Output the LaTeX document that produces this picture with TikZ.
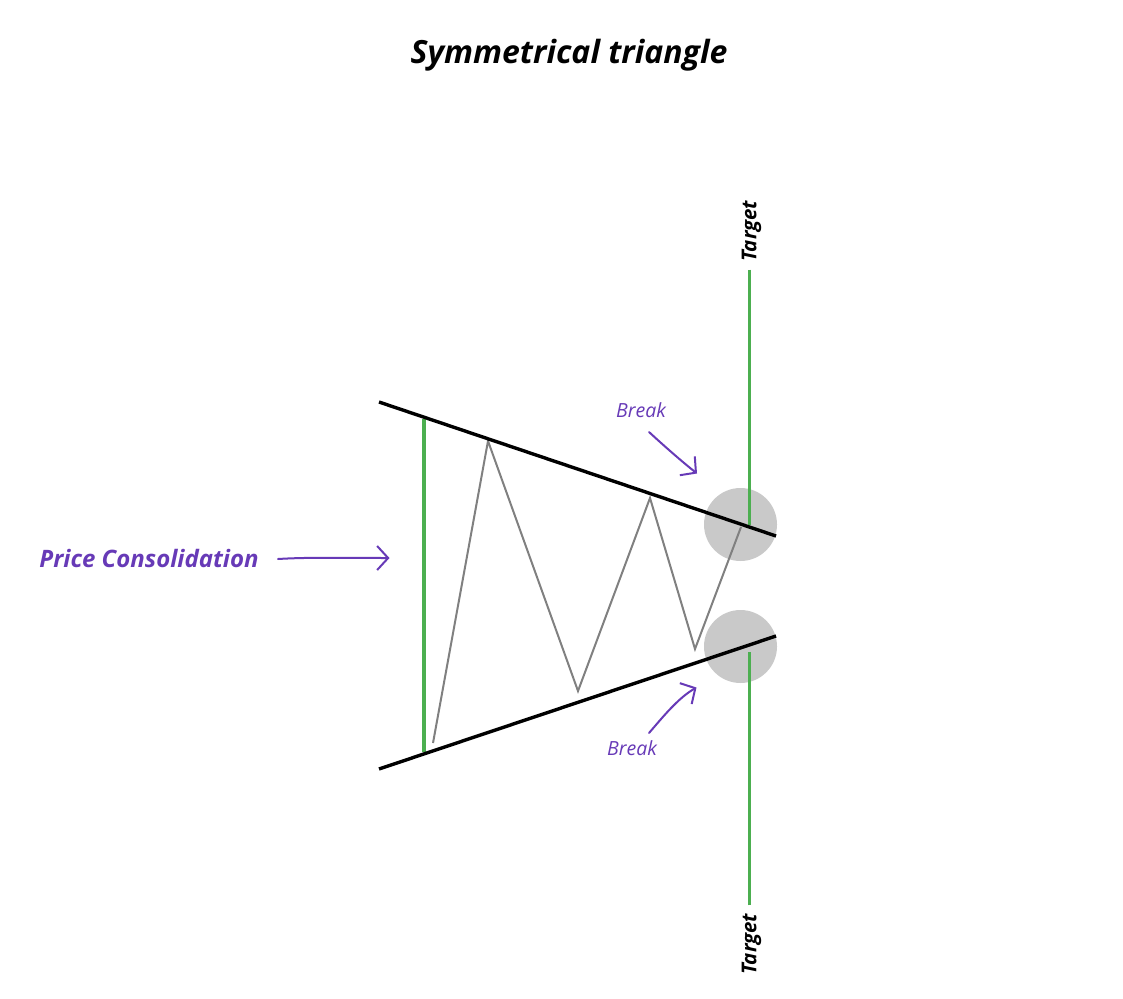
\documentclass[tikz,border=0pt]{standalone}
\usepackage{fontspec}
\setmainfont{Open Sans}
\usetikzlibrary{arrows.meta}
\definecolor{trendgreen}{HTML}{4CAF50}
\definecolor{notepurple}{HTML}{673AB7}
\definecolor{zonegray}{HTML}{C9C9C9}

\begin{document}
\begin{tikzpicture}[x=1pt, y=-1pt]
    \tikzstyle{trend} = [black, line width=3.4pt]
    \tikzstyle{target} = [trendgreen, line width=3.3pt]
    \tikzstyle{price} = [gray, line width=2pt, line join=miter]
    \tikzstyle{note} = [notepurple, line width=2pt, line cap=round, -{Straight Barb[length=11pt, width=24pt, line width=2pt]}]
    \tikzstyle{zone} = [circle, fill=zonegray, minimum size=73pt, inner sep=0pt]
    \tikzstyle{breaktext} = [text=notepurple, font=\fontsize{19.5}{20}\selectfont\itshape, inner sep=0pt]
    \tikzstyle{targettext} = [rotate=90, font=\fontsize{20.5}{21}\selectfont\itshape\bfseries, inner sep=8pt]

    \useasboundingbox (0,0) rectangle (1123,998);

    % Titre
    \node[font=\fontsize{32}{32}\selectfont\itshape\bfseries, inner sep=0pt] (title) at (569,55) {Symmetrical triangle};

    % Zones de cassure
    \node[zone] (zoneup) at (740.5,524.5) {};
    \node[zone] (zonedown) at (740.5,646.5) {};

    % Points du triangle
    \coordinate (upstart) at (379,402);
    \coordinate (upend) at (776,536);
    \coordinate (downstart) at (379,769);
    \coordinate (downend) at (776,636);
    \coordinate (widthtop) at (424,419);
    \coordinate (widthbottom) at (424,752);

    % Prix
    \coordinate (p0) at (433,743);
    \coordinate (p1) at (488,441);
    \coordinate (p2) at (578,691);
    \coordinate (p3) at (650,498);
    \coordinate (p4) at (695,649);
    \coordinate (p5) at (741,527);
    \draw[price] (p0) -- (p1) -- (p2) -- (p3) -- (p4) -- (p5);

    % Objectifs
    \node[targettext] (targetup) at (751.5,231) {Target};
    \node[targettext] (targetdown) at (751.5,944) {Target};
    \coordinate (breakup) at (749.5,525);
    \coordinate (breakdown) at (749.5,652);
    \draw[target] (widthtop) -- (widthbottom);
    \draw[target] (targetup.west -| breakup) -- (breakup);
    \draw[target] (targetdown.east -| breakdown) -- (breakdown);

    % Lignes de tendance
    \draw[trend] (upstart) -- (upend);
    \draw[trend] (downstart) -- (downend);

    % Annotations
    \node[text=notepurple, font=\fontsize{24}{24}\selectfont\itshape\bfseries, inner sep=0pt] (consol) at (149,558) {Price Consolidation};
    \node[breaktext] (breaktop) at (641,410) {Break};
    \node[breaktext] (breakbottom) at (632,748) {Break};
    \coordinate (consolend) at (389.5,558);
    \coordinate (breaktopend) at (697,473.5);
    \coordinate (breakbottomend) at (696.5,687.5);
    \draw[note] (consol.east -| 278,0) ++(0,1) .. controls (310,557) and (350,558) .. (consolend);
    \draw[note] (649,432) .. controls (662,444) and (680,460) .. (breaktopend);
    \draw[note] (649,733) .. controls (662,718) and (678,698) .. (breakbottomend);
\end{tikzpicture}
\end{document}
